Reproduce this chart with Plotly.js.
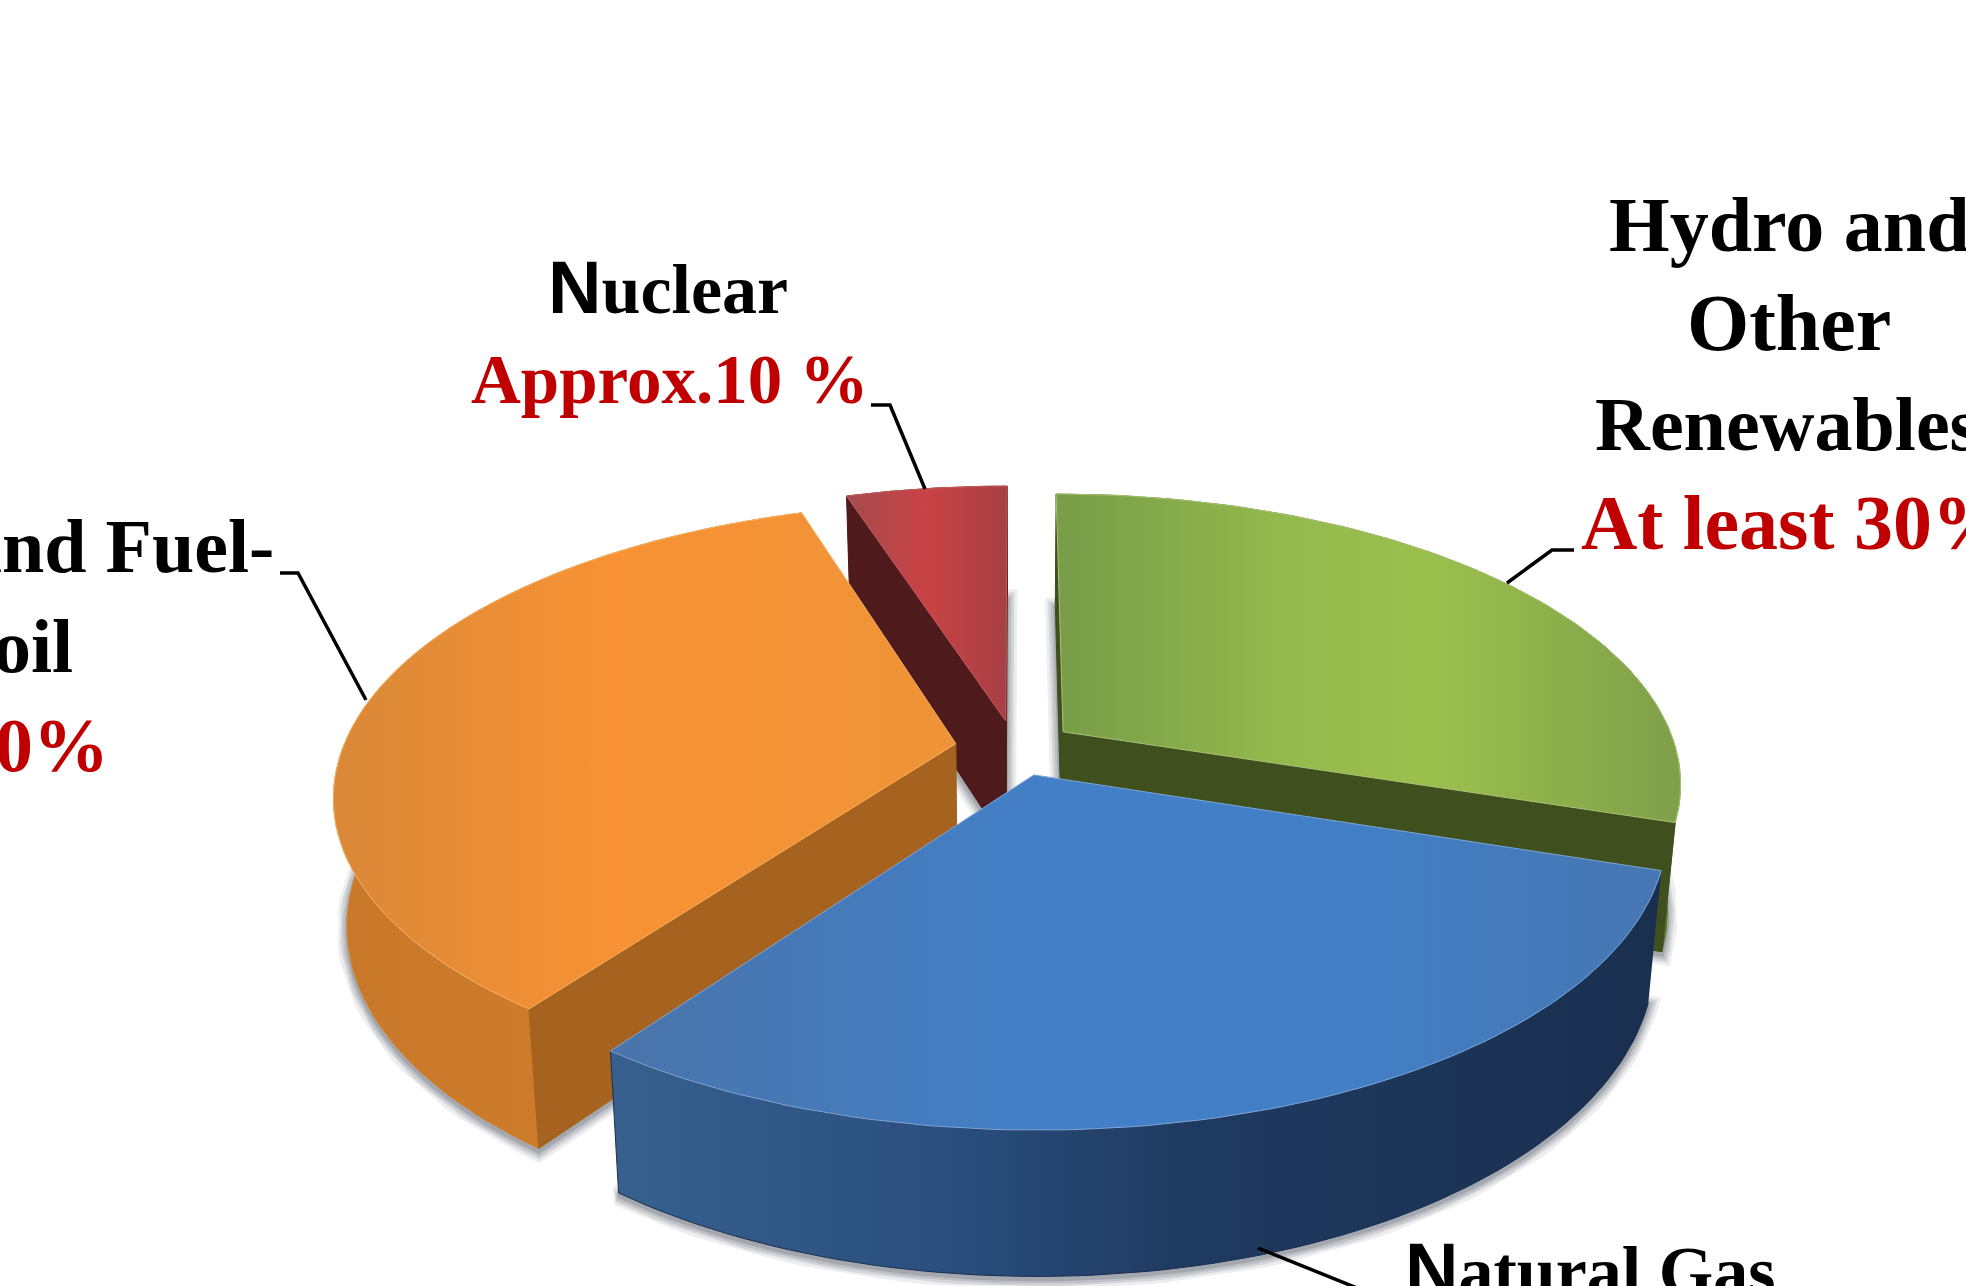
<!DOCTYPE html>
<html><head><meta charset="utf-8">
<script src="https://cdn.plot.ly/plotly-3.0.1.min.js"></script>
<style>html,body{margin:0;padding:0;background:#fff;overflow:hidden}#c{width:1966px;height:1286px}</style>
</head><body><div id="c"></div>
<script>
// Slice shares, clockwise from 12 o'clock
const sliceNames  = ['Hydro and Other Renewables','Natural Gas','Coal and Fuel-oil','Nuclear'];
const sliceValues = [30,30,35,5];
// Painter's order (back to front)
const drawOrder = [0,3,2,1];

const topColors = [
 [[0,'#789c48'],[0.35,'#93b84d'],[0.6,'#9bc04d'],[1,'#7f9f4a']],
 [[0,'#4a74aa'],[0.4,'#437fc6'],[0.7,'#427fc6'],[1,'#4776b2']],
 [[0,'#d98838'],[0.45,'#f89234'],[1,'#ee9338']],
 [[0,'#a54c4c'],[0.5,'#c94245'],[1,'#a63f44']]
];
const wallColors = [
 [[0,'#5b7a24'],[1,'#5b7a24']],
 [[0,'#37608f'],[0.3,'#2b5080'],[0.55,'#1f3a60'],[1,'#1a2f50']],
 [[0,'#c9782a'],[1,'#d2802c']],
 [[0,'#6a2022'],[1,'#6a2022']]
];
const faceColors = ['#3f4f1e','#2b4a75','#a5631f','#4f1a1c'];
const edgeColors = ['#a8c470','#7ea6d8','#f9b060','#c85a5a'];

// Label lines: text, font size, colour role, centre x, baseline y
const capN = '<span style="font-family:Liberation Sans;font-size:74px">N</span>';
const labelTexts = [capN+'uclear','Approx.10 %','Hydro and','Other','Renewables','At least 30%','Coal and Fuel-','oil','30%',capN+'atural Gas'];
const labelSizes = [70,69,78,80,76,78,76,76,76,70];
const labelRed   = [0,1,0,0,0,1,0,0,1,0];
const labelX     = [668,669,1789,1789,1787,1795,33,33,33,1590];
const labelBase  = [312,401,249,347,447,547,569,669,768,1294];
const leaders = [
 'M871,405 L890,405 L925,489',
 'M1574,550 L1552,550 L1507,583',
 'M280,573 L298,573 L366,700',
 'M1258,1248 L1362,1290'
];

// Projection of the pie
const P = {gx:1015, gy:748, R:613, s:0.463, k:0.172, H:125, shrink:0.02, pull:0.098};
function proj(X,Y,z){
  const w = 1/(1-P.k*Y), f = 1-P.shrink*z;
  return [P.gx + P.R*X*w*f, P.gy + P.R*P.s*Y*w*f + P.H*z*w];
}
const total = sliceValues.reduce((a,b)=>a+b,0);
let acc = 0;
const slices = sliceValues.map(v=>{
  const a0 = acc/total*2*Math.PI; acc += v; const a1 = acc/total*2*Math.PI;
  const m = (a0+a1)/2;
  return {a0,a1,ox:P.pull*Math.sin(m),oy:-P.pull*Math.cos(m)};
});
const pt = (sl,a,r,z)=>proj(sl.ox+r*Math.sin(a), sl.oy-r*Math.cos(a), z);
function arc(sl,z,rev){
  const n = 80, out = [];
  for(let i=0;i<=n;i++){ const t = rev? 1-i/n : i/n; out.push(pt(sl,sl.a0+(sl.a1-sl.a0)*t,1,z)); }
  return out;
}
const sector = (sl,z)=>[pt(sl,0,0,z),...arc(sl,z,false),pt(sl,0,0,z)];
function area(p){let s=0;for(let i=0;i<p.length;i++){const a=p[i],b=p[(i+1)%p.length];s+=a[0]*b[1]-b[0]*a[1];}return s;}
function poly(p,o){
  return Object.assign({type:'scatter',mode:'lines',x:p.map(q=>q[0]),y:p.map(q=>q[1]),fill:'toself',hoverinfo:'skip',showlegend:false},o);
}
const traces = [];
// soft shadows
[[20,0.12],[14,0.18],[9,0.22],[4,0.32]].forEach(([lw,op])=>{
  slices.forEach(sl=>{
    const p = sector(sl,1).map(q=>[q[0],q[1]+3]);
    traces.push(poly(p,{fillcolor:'#6f7480',line:{color:'#6f7480',width:lw},opacity:op}));
  });
});
drawOrder.forEach(i=>{
  const sl = slices[i];
  // outer wall
  traces.push(poly([...arc(sl,0,false),...arc(sl,1,true)],{
    fillgradient:{type:'horizontal',colorscale:wallColors[i]},line:{color:wallColors[i][wallColors[i].length-1][1],width:1},name:sliceNames[i]}));
  // cut faces, only those turned to the viewer
  [[sl.a0,-1],[sl.a1,1]].forEach(([a,sign])=>{
    const q=[pt(sl,0,0,0),pt(sl,a,1,0),pt(sl,a,1,1),pt(sl,0,0,1)];
    if(area(q)*sign>0) traces.push(poly([...q,q[0]],{fillcolor:faceColors[i],line:{color:faceColors[i],width:1}}));
  });
  // top surface
  traces.push(poly(sector(sl,0),{fillgradient:{type:'horizontal',colorscale:topColors[i]},line:{color:edgeColors[i],width:1},name:sliceNames[i]}));
});

const W=1966,Ht=1286;
const annotations = labelTexts.map((t,i)=>({
  xref:'paper',yref:'paper',x:labelX[i]/W,y:1-(labelBase[i]+labelSizes[i]*0.27)/Ht,
  xanchor:'center',yanchor:'bottom',showarrow:false,text:t,
  font:{family:'"Liberation Serif",serif',size:labelSizes[i],weight:700,color:labelRed[i]?'#c00000':'#000000'}
}));
const shapes = leaders.map(d=>({type:'path',path:d,xref:'x',yref:'y',line:{color:'#000',width:3.5}}));
Plotly.newPlot('c',traces,{
  width:W,height:Ht,margin:{l:0,r:0,t:0,b:0},paper_bgcolor:'#fff',plot_bgcolor:'#fff',showlegend:false,
  xaxis:{range:[0,W],visible:false,fixedrange:true},
  yaxis:{range:[Ht,0],visible:false,fixedrange:true},
  annotations,shapes
},{displayModeBar:false,staticPlot:true});
</script></body></html>
